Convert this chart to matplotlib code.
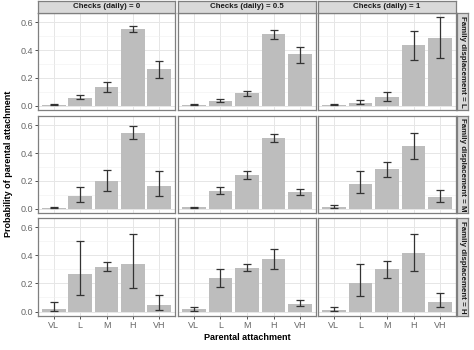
import matplotlib
matplotlib.use("Agg")
import matplotlib.pyplot as plt
import numpy as np

plt.rcParams["font.family"] = ["Liberation Sans", "DejaVu Sans"]

categories = ["VL", "L", "M", "H", "VH"]
checks = ["0", "0.5", "1"]
displacement = ["L", "M", "H"]

# rows: displacement L, M, H ; cols: checks 0, 0.5, 1
prob = {
    ("L", "0"):   [0.005, 0.056, 0.131, 0.553, 0.260],
    ("L", "0.5"): [0.005, 0.035, 0.089, 0.513, 0.368],
    ("L", "1"):   [0.005, 0.021, 0.059, 0.434, 0.490],
    ("M", "0"):   [0.006, 0.090, 0.197, 0.548, 0.164],
    ("M", "0.5"): [0.009, 0.130, 0.242, 0.512, 0.121],
    ("M", "1"):   [0.014, 0.178, 0.282, 0.450, 0.083],
    ("H", "0"):   [0.021, 0.271, 0.319, 0.336, 0.043],
    ("H", "0.5"): [0.017, 0.236, 0.312, 0.376, 0.055],
    ("H", "1"):   [0.014, 0.202, 0.300, 0.414, 0.069],
}
lower = {
    ("L", "0"):   [0.003, 0.045, 0.098, 0.530, 0.200],
    ("L", "0.5"): [0.003, 0.026, 0.070, 0.478, 0.310],
    ("L", "1"):   [0.003, 0.010, 0.033, 0.330, 0.342],
    ("M", "0"):   [0.003, 0.050, 0.130, 0.500, 0.092],
    ("M", "0.5"): [0.005, 0.107, 0.211, 0.477, 0.095],
    ("M", "1"):   [0.005, 0.109, 0.225, 0.356, 0.050],
    ("H", "0"):   [0.005, 0.121, 0.286, 0.167, 0.012],
    ("H", "0.5"): [0.007, 0.176, 0.286, 0.305, 0.036],
    ("H", "1"):   [0.002, 0.112, 0.240, 0.288, 0.033],
}
upper = {
    ("L", "0"):   [0.008, 0.075, 0.169, 0.576, 0.323],
    ("L", "0.5"): [0.008, 0.049, 0.108, 0.544, 0.420],
    ("L", "1"):   [0.008, 0.040, 0.096, 0.540, 0.635],
    ("M", "0"):   [0.010, 0.157, 0.280, 0.595, 0.268],
    ("M", "0.5"): [0.012, 0.154, 0.268, 0.540, 0.140],
    ("M", "1"):   [0.026, 0.268, 0.339, 0.545, 0.135],
    ("H", "0"):   [0.067, 0.502, 0.355, 0.555, 0.119],
    ("H", "0.5"): [0.029, 0.305, 0.340, 0.448, 0.079],
    ("H", "1"):   [0.031, 0.336, 0.360, 0.550, 0.129],
}

W, H = 474, 350
fig = plt.figure(figsize=(W / 100, H / 100), dpi=100)
fig.patch.set_facecolor("white")

col_x = [(38, 175), (178, 316), (318, 456)]
row_y = [(13, 110), (116, 213), (218, 316)]
strip_top = (1, 13)
strip_right = (457, 468)

def ax_rect(x0, x1, y0, y1):
    return [x0 / W, 1 - y1 / H, (x1 - x0) / W, (y1 - y0) / H]

border = "#7f7f7f"
strip_face = "#d9d9d9"
tick_col = "#666666"

x = np.arange(len(categories))
for r, d in enumerate(displacement):
    for c, ch in enumerate(checks):
        (x0, x1), (y0, y1) = col_x[c], row_y[r]
        ax = fig.add_axes(ax_rect(x0, x1, y0, y1))
        vals = np.array(prob[(d, ch)])
        lo = np.array(lower[(d, ch)])
        hi = np.array(upper[(d, ch)])
        ax.bar(x, vals, width=0.9, color="#bdbdbd", zorder=2)
        ax.errorbar(x, vals, yerr=[vals - lo, hi - vals], fmt="none",
                    ecolor="#333333", elinewidth=0.9, capsize=2.6,
                    capthick=0.9, zorder=3)
        ax.set_xlim(-0.6, 4.6)
        ax.set_ylim(-0.032, 0.667)
        ax.set_yticks([0, 0.2, 0.4, 0.6])
        ax.set_yticks([0.1, 0.3, 0.5], minor=True)
        ax.set_xticks(x)
        ax.grid(True, which="major", color="#e6e6e6", linewidth=0.7, zorder=0)
        ax.grid(True, which="minor", axis="y", color="#f0f0f0", linewidth=0.4, zorder=0)
        ax.set_axisbelow(True)
        for s in ax.spines.values():
            s.set_color(border)
            s.set_linewidth(0.9)
        ax.tick_params(which="minor", length=0)
        ax.tick_params(which="major", length=2, color="#333333", width=0.6,
                       labelsize=6.5, labelcolor=tick_col, pad=1.5)
        if c == 0:
            ax.set_yticklabels(["0.0", "0.2", "0.4", "0.6"])
        else:
            ax.set_yticklabels([])
            ax.tick_params(axis="y", length=0)
        if r == 2:
            ax.set_xticklabels(categories)
        else:
            ax.set_xticklabels([])
            ax.tick_params(axis="x", length=0)
        if r == 0:
            sax = fig.add_axes(ax_rect(x0, x1, strip_top[0], strip_top[1]))
            sax.set_facecolor(strip_face)
            sax.set_xticks([]); sax.set_yticks([])
            for s in sax.spines.values():
                s.set_color(border); s.set_linewidth(0.9)
            sax.text(0.5, 0.5, f"Checks (daily) = {ch}", ha="center", va="center",
                     fontsize=5.7, fontweight="bold", color="#1a1a1a",
                     transform=sax.transAxes)
        if c == 2:
            sax = fig.add_axes(ax_rect(strip_right[0], strip_right[1], y0, y1))
            sax.set_facecolor(strip_face)
            sax.set_xticks([]); sax.set_yticks([])
            for s in sax.spines.values():
                s.set_color(border); s.set_linewidth(0.9)
            sax.text(0.5, 0.5, f"Family displacement = {d}", ha="center", va="center",
                     fontsize=5.7, fontweight="bold", color="#1a1a1a", rotation=-90,
                     transform=sax.transAxes)

fig.text(247 / W, 1 - 337 / H, "Parental attachment", ha="center", va="center",
         fontsize=6.5, fontweight="bold")
fig.text(9 / W, 1 - 164 / H, "Probability of parental attachment", ha="center",
         va="center", rotation=90, fontsize=6.5, fontweight="bold")

fig.savefig("out.png", dpi=100, facecolor="white")
